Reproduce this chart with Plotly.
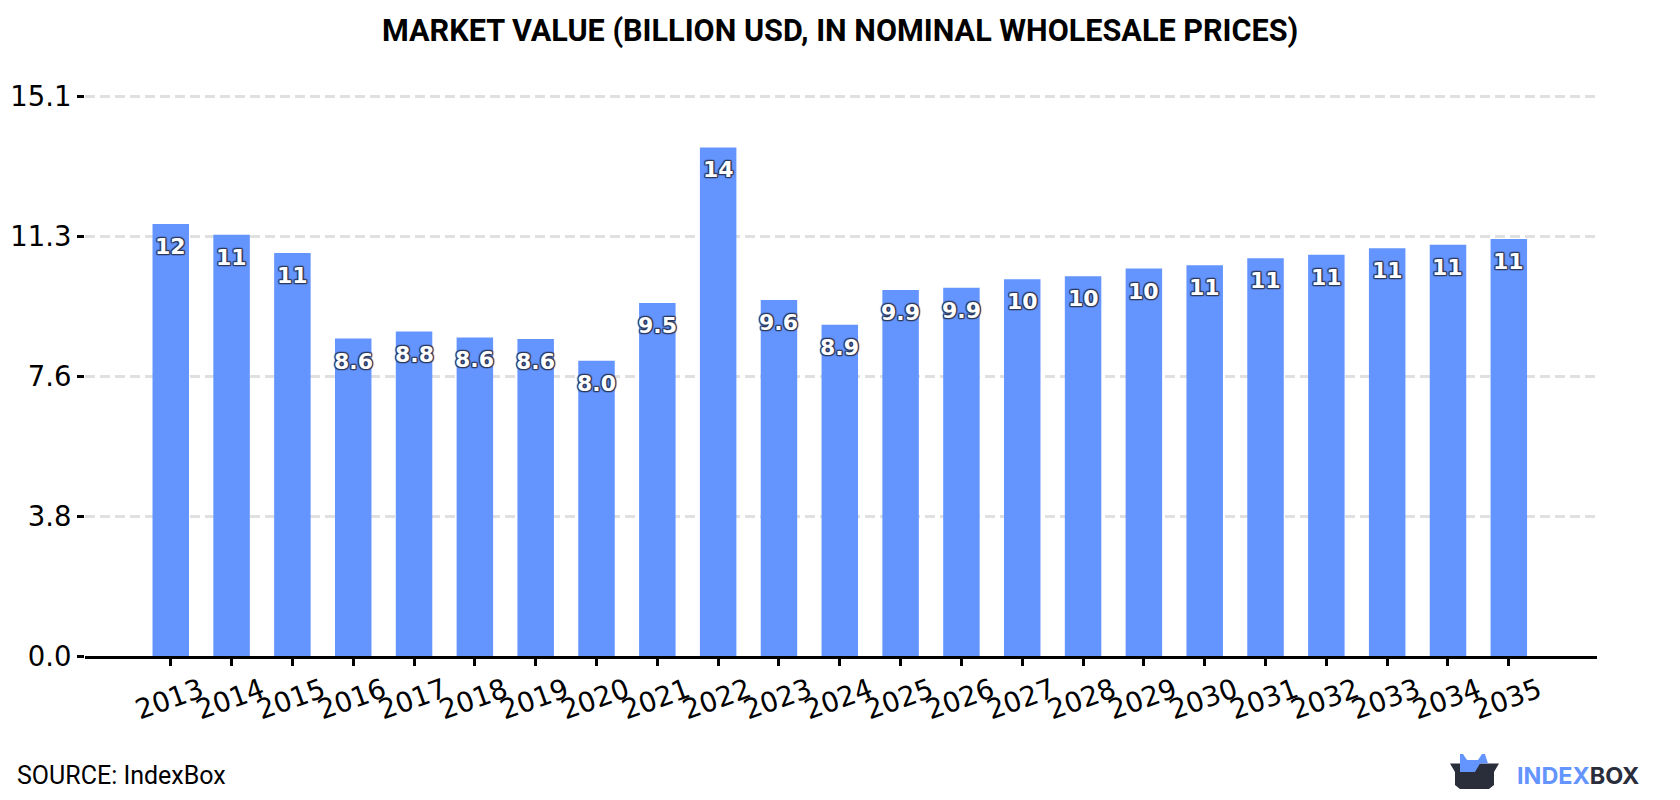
import plotly.graph_objects as go

# Market value series, billion USD
years = [str(y) for y in range(2013, 2036)]
values = [11.66, 11.37, 10.88, 8.57, 8.76, 8.60, 8.56, 7.97, 9.53, 13.73, 9.61, 8.94,
          9.88, 9.94, 10.17, 10.25, 10.46, 10.55, 10.74, 10.83, 11.01, 11.10, 11.26]
y_ticks = [0, 3.775, 7.55, 11.325, 15.1]
y_tick_labels = ["0.0", "3.8", "7.6", "11.3", "15.1"]

WIDTH, HEIGHT = 1680, 800
LEFT, RIGHT, BOTTOM = 85, 83, 144
Y_MAX = 15.2
TOP = 93.3
BLUE = "#6495FF"
DARK = "#2A2D3A"
OUTLINE = "#2F3B5C"


def fmt(v):
    # two significant digits, as printed on the bars
    return f"{v:.2g}" if v >= 10 else f"{v:.1f}"


def px_x(x):
    return (x - LEFT) / (WIDTH - LEFT - RIGHT)


def px_y(y):
    return (HEIGHT - BOTTOM - y) / (HEIGHT - TOP - BOTTOM)


def logo_path(points):
    return "M" + " L".join(f"{px_x(x):.5f},{px_y(y):.5f}" for x, y in points) + " Z"


fig = go.Figure(go.Bar(x=years, y=values, width=0.6, marker=dict(color=BLUE, line_width=0), hoverinfo="x+y"))

outline = ",".join(f"{dx}px {dy}px 1px {OUTLINE}" for dx, dy in
                   [(-1, 0), (1, 0), (0, -1), (0, 1), (-1, -1), (1, -1), (-1, 1), (1, 1)])
# Numeric x is the category's position on the axis (year-like strings would be read as numbers)
annotations = [
    dict(xref="x", yref="y", x=i, y=v, text=fmt(v), showarrow=False, yshift=-22.5, yanchor="middle",
         font=dict(family="DejaVu Sans", size=22, color="white", weight="bold", shadow=outline))
    for i, v in enumerate(values)
]
annotations += [
    dict(xref="paper", yref="paper", x=px_x(840), y=px_y(31), text="<b>MARKET VALUE (BILLION USD, IN NOMINAL WHOLESALE PRICES)</b>",
         showarrow=False, xanchor="center", yanchor="middle", font=dict(family="Roboto", size=30.6, color="black")),
    dict(xref="paper", yref="paper", x=px_x(15), y=px_y(775), text="SOURCE: IndexBox",
         showarrow=False, xanchor="left", yanchor="middle", font=dict(family="Roboto", size=25, color="black")),
    dict(xref="paper", yref="paper", x=px_x(1515), y=px_y(775),
         text=f"<b><span style='color:{BLUE}'>INDEX</span><span style='color:{DARK}'>BOX</span></b>",
         showarrow=False, xanchor="left", yanchor="middle", font=dict(family="Inter", size=23.4, color=DARK)),
]

# Logo: a dark open box with blue ears rising out of it
box = [(1450, 763.5), (1499, 763.5), (1494, 772), (1494, 785), (1489, 789), (1460, 789), (1455, 785), (1455, 772)]
ears = [(1460, 754), (1463, 754), (1467, 760), (1478, 760), (1482, 754), (1485, 754), (1488, 763.5),
        (1480, 763.5), (1475, 772), (1460, 772)]
shapes = [
    dict(type="path", xref="paper", yref="paper", path=logo_path(box), fillcolor=DARK, line_width=0),
    dict(type="path", xref="paper", yref="paper", path=logo_path(ears), fillcolor=BLUE, line_width=0),
]

fig.update_layout(
    width=WIDTH, height=HEIGHT, autosize=False,
    margin=dict(l=LEFT, r=RIGHT, t=TOP, b=BOTTOM, pad=0, autoexpand=False),
    paper_bgcolor="white", plot_bgcolor="white", showlegend=False,
    annotations=annotations, shapes=shapes,
    xaxis=dict(type="category", range=[-1.41, 23.45], showgrid=False, zeroline=False,
               showline=True, linecolor="black", linewidth=2.5,
               ticks="outside", ticklen=7, tickwidth=2.5, tickcolor="black",
               tickangle=-20, ticklabelshift=30, ticklabelstandoff=-2,
               tickfont=dict(family="DejaVu Sans", size=27.5, color="black")),
    yaxis=dict(range=[0, Y_MAX], tickvals=y_ticks, ticktext=y_tick_labels, zeroline=False,
               showgrid=True, gridcolor="#E0E0E0", gridwidth=2.5, griddash="10px,5px",
               ticks="outside", ticklen=7, tickwidth=2.5, tickcolor="black", showline=False,
               tickfont=dict(family="DejaVu Sans", size=27.5, color="black")),
)

fig.write_html("out.html", config=dict(displayModeBar=False))
